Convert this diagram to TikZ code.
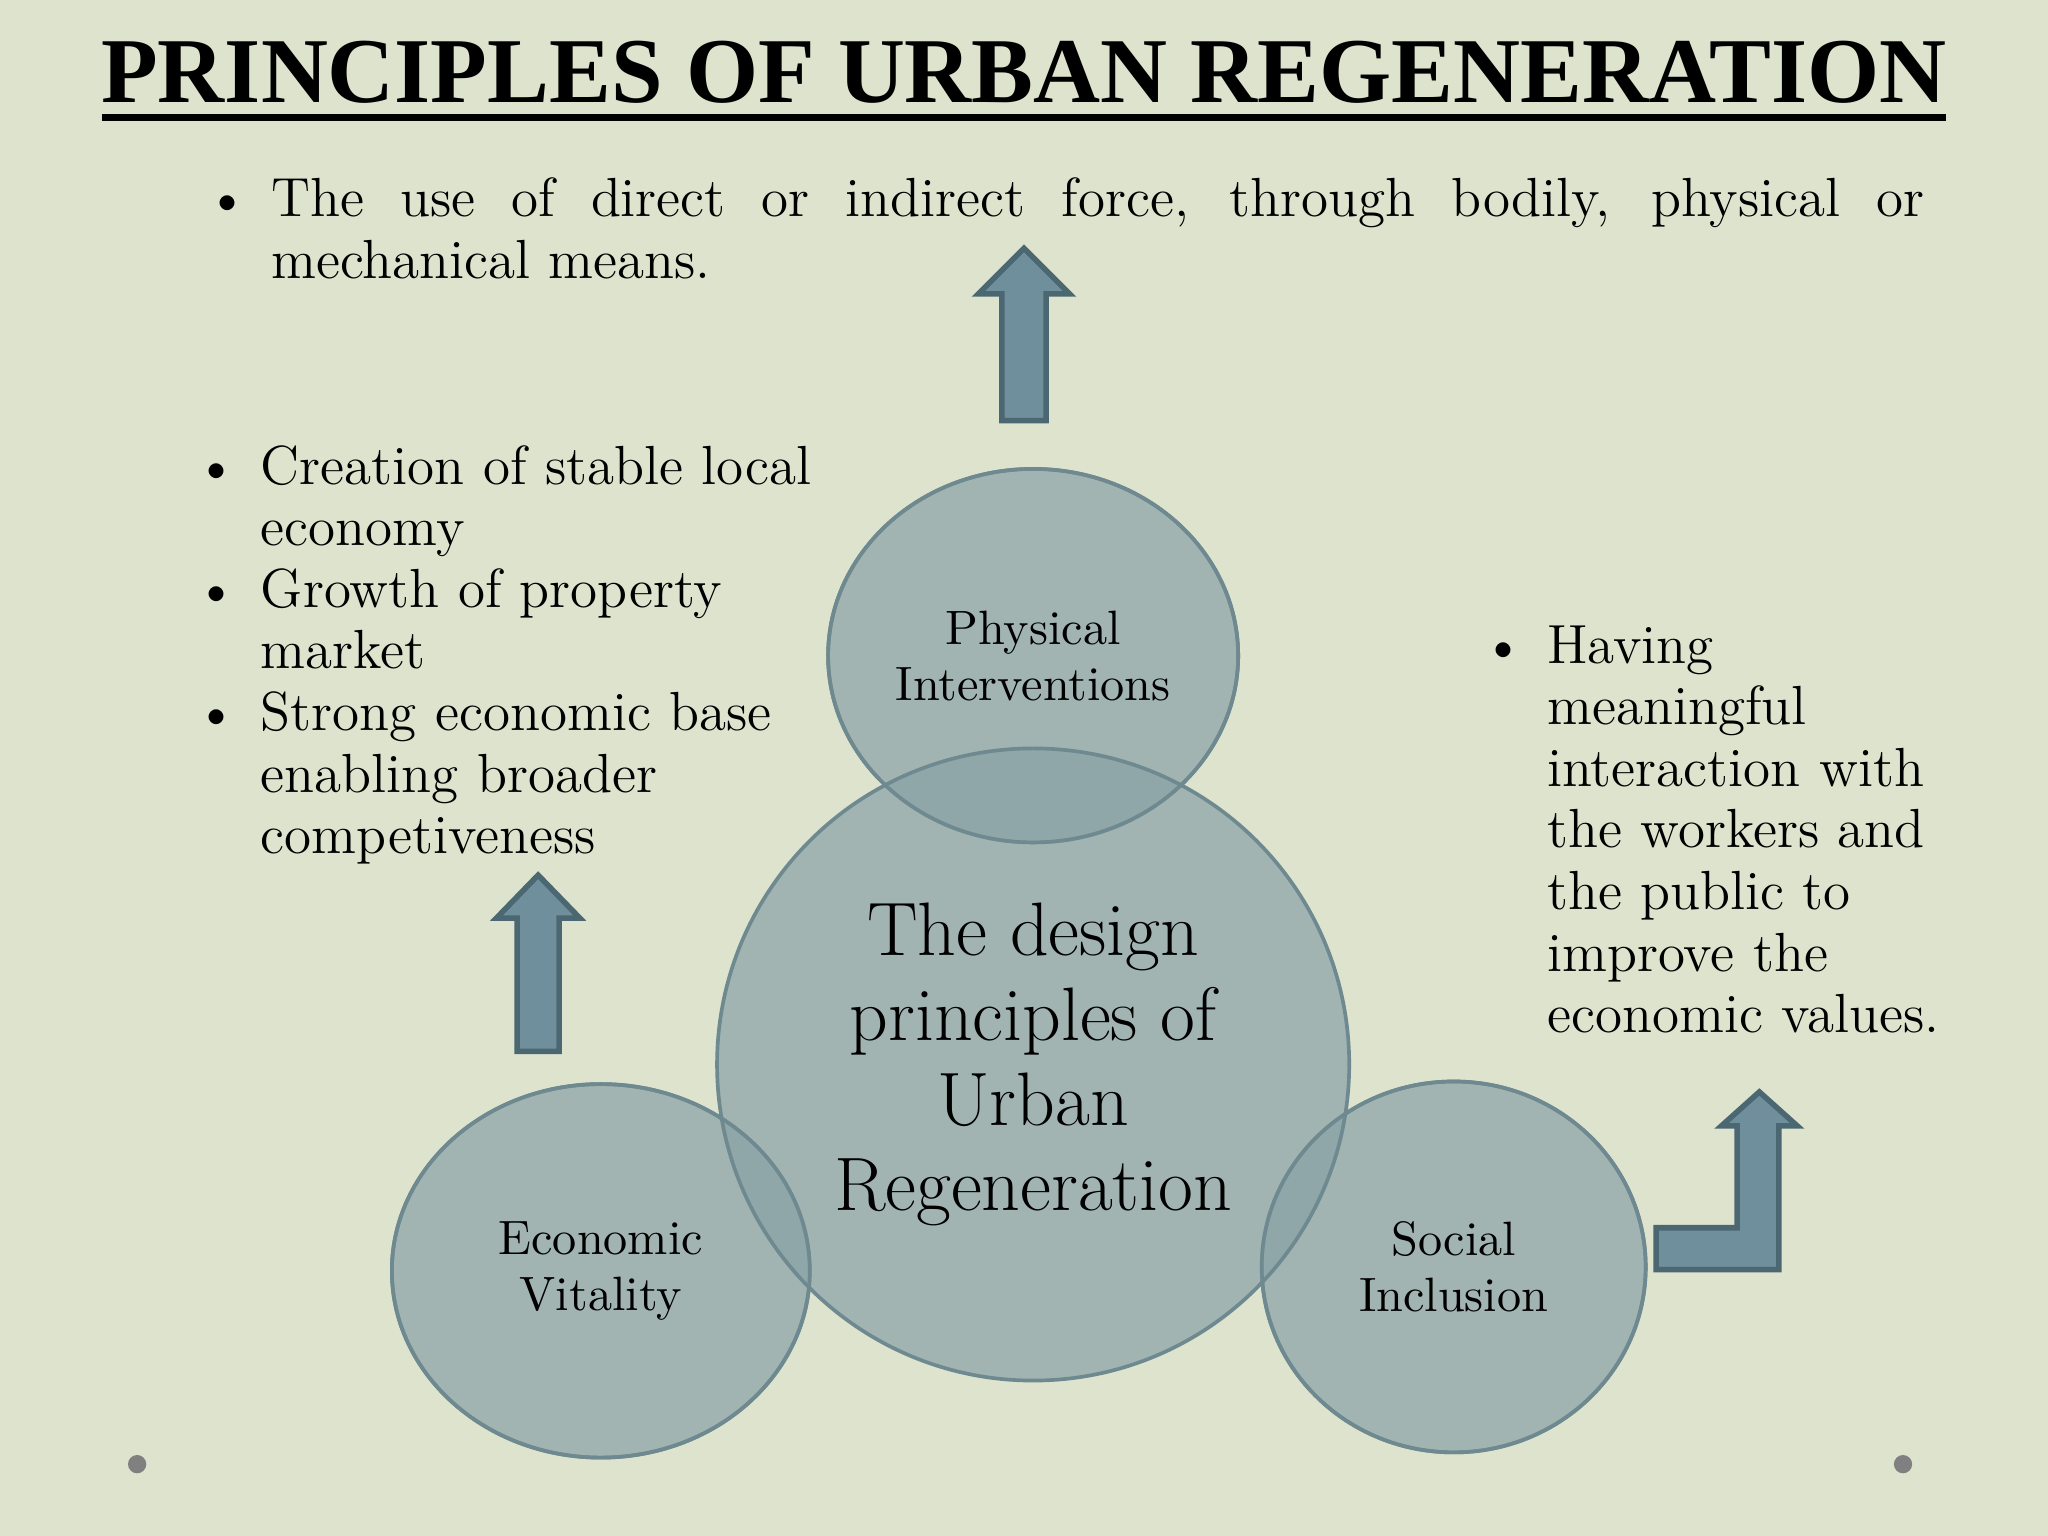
\documentclass[tikz,border=0pt]{standalone}
\usepackage{enumitem}
\usepackage{fontspec}
\newfontfamily\titlefont{Liberation Serif}
\setlist[itemize]{label=\textbullet,leftmargin=0.47cm,itemsep=0pt,topsep=0pt,parsep=0pt}
\hyphenpenalty=10000
\exhyphenpenalty=10000
\begin{document}
\begin{tikzpicture}[x=0.01cm,y=-0.01cm,
  bubble/.style={fill=bub,fill opacity=0.72,draw=bubd,line width=0.8pt,text opacity=1,text=black},
  arr/.style={fill=arrf,draw=arrd,line width=1.2pt},
  body/.style={anchor=north west,inner sep=0pt,font=\fontsize{12}{13.4}\selectfont}]
\definecolor{bg}{HTML}{DDE3CD}
\definecolor{bub}{HTML}{8AA3A7}
\definecolor{bubd}{HTML}{6E8A90}
\definecolor{arrf}{HTML}{6F8F9C}
\definecolor{arrd}{HTML}{4B6772}
\fill[bg] (0,0) rectangle (1568,1176);
\useasboundingbox (0,0) rectangle (1568,1176);
\node[inner sep=0pt] (title) at (784,55) {\resizebox{14.12cm}{!}{\titlefont\bfseries PRINCIPLES OF URBAN REGENERATION}};
\draw[line width=1.5pt] (78,90) -- (1490,90);
% bubbles
\fill[bubble] (791,502) ellipse [x radius=157,y radius=143];
\fill[bubble] (460,973) ellipse [x radius=160,y radius=143];
\fill[bubble] (1113,970) ellipse [x radius=147,y radius=142];
\fill[bubble] (791,815) circle [radius=242];
\draw[bubd,line width=0.8pt] (791,502) ellipse [x radius=157,y radius=143];
\draw[bubd,line width=0.8pt] (460,973) ellipse [x radius=160,y radius=143];
\draw[bubd,line width=0.8pt] (1113,970) ellipse [x radius=147,y radius=142];
\node[align=center,font=\fontsize{10.5}{12.2}\selectfont] (phys) at (791,502) {Physical\\Interventions};
\node[align=center,font=\fontsize{10.5}{12.2}\selectfont] (econ) at (460,973) {Economic\\Vitality};
\node[align=center,font=\fontsize{10.5}{12.2}\selectfont] (soc) at (1113,970) {Social\\Inclusion};
\node[align=center,font=\fontsize{16.5}{18.5}\selectfont] (core) at (791,815) {The design\\principles of\\Urban\\Regeneration};
% arrows
\draw[arr] (767,322) -- (767,225) -- (749,225) -- (784,190) -- (819,225) -- (801,225) -- (801,322) -- cycle;
\draw[arr] (396,805) -- (396,703) -- (380,703) -- (412,670) -- (444,703) -- (428,703) -- (428,805) -- cycle;
\draw[arr] (1268,940) -- (1330,940) -- (1330,862) -- (1318,862) -- (1347,836) -- (1376,862) -- (1362,862) -- (1362,972) -- (1268,972) -- cycle;
% texts
\node[body,text width=13.12cm,align=justify] (t1) at (160,118) {\begin{itemize}\item The use of direct or indirect force, through bodily, physical or mechanical means.\end{itemize}};
\node[body,text width=4.85cm,align=left] (t2) at (152,323) {\begin{itemize}\item Creation of stable local economy\item Growth of property market\item Strong economic base enabling broader competiveness\end{itemize}};
\node[body,text width=3.6cm,align=left] (t3) at (1137,460) {\begin{itemize}\item Having meaningful interaction with the workers and the public to improve the economic values.\end{itemize}};
\fill[gray] (105,1121) circle [radius=7];
\fill[gray] (1457,1121) circle [radius=7];
\end{tikzpicture}
\end{document}
